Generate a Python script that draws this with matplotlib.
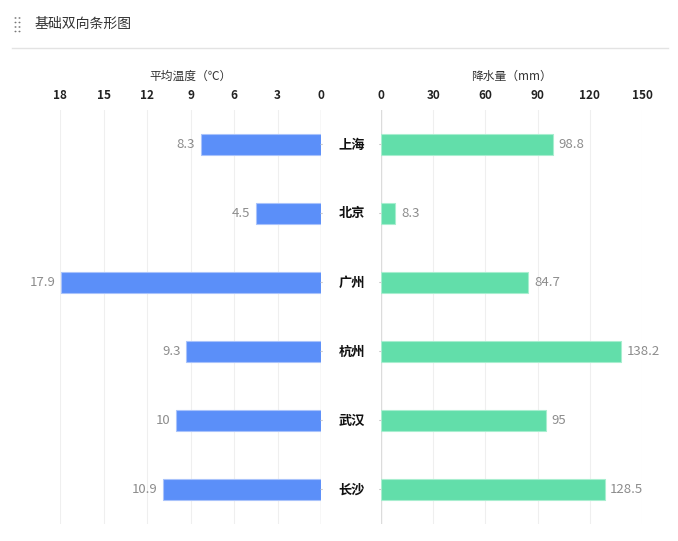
import matplotlib.pyplot as plt
from matplotlib.lines import Line2D

plt.rcParams['font.family'] = ['Noto Sans CJK SC', 'DejaVu Sans']

cities = ['上海', '北京', '广州', '杭州', '武汉', '长沙']
temperature = [8.3, 4.5, 17.9, 9.3, 10, 10.9]
rainfall = [98.8, 8.3, 84.7, 138.2, 95, 128.5]
temp_ticks = [0, 3, 6, 9, 12, 15, 18]
rain_ticks = [0, 30, 60, 90, 120, 150]

blue = '#5B8FF9'
green = '#62DEAA'
grid_c = '#efefef'
label_c = '#8c8c8c'

W, H = 678, 541
fig = plt.figure(figsize=(W / 100, H / 100), dpi=100)

# header
fig.text(35 / W, 1 - 24 / H, '基础双向条形图', fontsize=10, color='#333333', va='center', ha='left')
for cx in (15.5, 19.5):
    for cy in (18, 22.5, 27, 31.5):
        fig.patches.append(plt.Circle((cx / W, 1 - cy / H), 1.0 / W, transform=fig.transFigure,
                                      color='#777777', ec='none'))
fig.add_artist(Line2D([12 / W, 668 / W], [1 - 48 / H, 1 - 48 / H], color='#e3e3e3', lw=1))

top = 1 - 110 / H
bottom = 1 - 524 / H
axl = fig.add_axes([60 / W, bottom, 261 / W, top - bottom])
axr = fig.add_axes([381 / W, bottom, 261 / W, top - bottom])

ypos = list(range(len(cities)))
bar_h = 0.29

axl.barh(ypos, temperature, height=bar_h, color=blue, edgecolor='#a9c3fb', linewidth=0.8, zorder=3)
axr.barh(ypos, rainfall, height=bar_h, color=green, edgecolor='#a8eecf', linewidth=0.8, zorder=3)

axl.set_xlim(18, 0)
axr.set_xlim(0, 150)
axl.set_xticks(temp_ticks)
axr.set_xticks(rain_ticks)
for ax in (axl, axr):
    ax.set_ylim(len(cities) - 0.5, -0.5)
    for s in ax.spines.values():
        s.set_visible(False)
    ax.xaxis.tick_top()
    ax.tick_params(axis='x', length=0, pad=6, labelsize=8.5, labelcolor='#222222')
    ax.set_yticks([])
    ax.grid(axis='x', color=grid_c, lw=0.8, zorder=0)
    ax.set_axisbelow(True)
    for t in ax.get_xticklabels():
        t.set_fontweight('bold')

axl.axvline(0, color='#dcdcdc', lw=1, zorder=1)
axr.axvline(0, color='#dcdcdc', lw=1, zorder=1)

axl.set_title('平均温度（℃）', fontsize=8.5, color='#333333', pad=22)
axr.set_title('降水量（mm）', fontsize=8.5, color='#333333', pad=22)

for y, v in zip(ypos, temperature):
    axl.annotate(f'{v:g}', (v, y), xytext=(-4, 0), textcoords='offset points',
                 ha='right', va='center', fontsize=9.5, color=label_c)
    axl.annotate('', (0, y), xytext=(3, 0), textcoords='offset points',
                 arrowprops=dict(arrowstyle='-', color='#cccccc', lw=0.8))
for y, v in zip(ypos, rainfall):
    axr.annotate(f'{v:g}', (v, y), xytext=(4, 0), textcoords='offset points',
                 ha='left', va='center', fontsize=9.5, color=label_c)
    axr.annotate('', (0, y), xytext=(-3, 0), textcoords='offset points',
                 arrowprops=dict(arrowstyle='-', color='#cccccc', lw=0.8))

# city labels in the centre
for y, c in zip(ypos, cities):
    axr.annotate(c, (0, y), xytext=(-21, 0), textcoords='offset points',
                 ha='center', va='center', fontsize=9.5, fontweight='bold', color='#111111',
                 annotation_clip=False)

fig.savefig('out.png', dpi=100)
